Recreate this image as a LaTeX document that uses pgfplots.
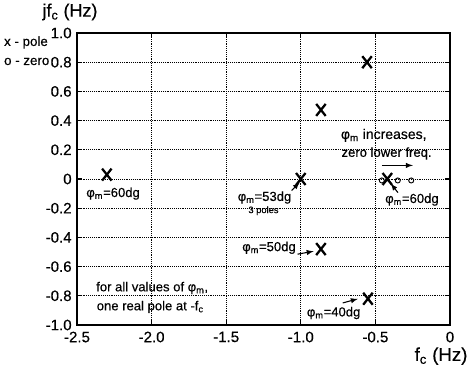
\documentclass[border=0pt]{standalone}
\usepackage{fontspec}
\setmainfont{Liberation Sans}[FakeBold=0.35]
\usepackage{pgfplots}
\pgfplotsset{compat=1.18}
\newcommand{\sub}[1]{\textsubscript{#1}}
\newcommand{\phim}{φ\sub{m}}
\begin{document}
\begin{tikzpicture}[x=1pt,y=1pt]
\useasboundingbox (-57.75pt,-31.5pt) rectangle (297.75pt,243.75pt);
\begin{axis}[
  scale only axis, width=279.75pt, height=219pt,
  xmin=-2.5, xmax=0, ymin=-1, ymax=1,
  xtick={-2.5,-2,-1.5,-1,-0.5,0},
  xticklabels={-2.5,-2.0,-1.5,-1.0,-0.5,0},
  ytick={-1,-0.8,-0.6,-0.4,-0.2,0,0.2,0.4,0.6,0.8,1},
  yticklabels={-1.0,-0.8,-0.6,-0.4,-0.2,0,0.2,0.4,0.6,0.8,1.0},
  /pgf/number format/assume math mode=true,
  tick label style={font=\fontsize{11.3}{13}\selectfont},
  xticklabel style={yshift=-1.5pt},
  yticklabel style={xshift=-0.5pt},
  grid=major, grid style={black, densely dotted, line width=0.6pt},
  axis line style={line width=1.1pt},
  major tick length=4pt,
  tick style={black, line width=0.8pt},
  clip=false,
]
\addplot[only marks, mark=x, mark size=5.3pt, line width=1.7pt, mark options={yscale=1.2,xscale=0.95}] coordinates {
(-2.30,0.03) (-1.00,0.0) (-0.865,0.473) (-0.865,-0.48) (-0.556,0.80) (-0.55,-0.82) (-0.42,0.0)};
\addplot[only marks, mark=o, mark size=1.9pt, line width=0.7pt] coordinates {
(-0.457,-0.01) (-0.35,-0.01) (-0.26,-0.01)};
\begin{scope}[font=\fontsize{9.8}{11}\selectfont]
\node at (axis cs:-2.547,1.144) {\fontsize{13.5}{14}\selectfont jf\sub{c} (Hz)};
\node at (axis cs:-0.06,-1.213) {\fontsize{14}{15}\selectfont f\sub{c} (Hz)};
\node[anchor=west] at (axis cs:-3.02,0.935) {\fontsize{10}{12}\selectfont x - pole};
\node[anchor=west] at (axis cs:-3.02,0.805) {\fontsize{10}{12}\selectfont o - zero};
\node at (axis cs:-2.258,-0.10) {\phim=60dg};
\node at (axis cs:-1.243,-0.127) {\phim=53dg};
\node at (axis cs:-1.25,-0.217) {\fontsize{7}{8}\selectfont 3 poles};
\draw[-latex, line width=0.8pt] (axis cs:-1.062,-0.079) -- (axis cs:-1.008,-0.024);
\node at (axis cs:-0.444,0.299) {\fontsize{10.5}{12}\selectfont\phim\ increases,};
\node at (axis cs:-0.425,0.175) {zero lower freq.};
\draw[-latex, line width=0.8pt] (axis cs:-0.457,0.093) -- (axis cs:-0.249,0.093);
\node at (axis cs:-0.255,-0.141) {\phim=60dg};
\draw[-latex, line width=0.8pt] (axis cs:-0.349,-0.093) -- (axis cs:-0.397,-0.031);
\node at (axis cs:-1.213,-0.471) {\phim=50dg};
\draw[-latex, line width=0.8pt] (axis cs:-1.022,-0.515) -- (axis cs:-0.914,-0.495);
\node at (axis cs:-0.78,-0.918) {\phim=40dg};
\draw[-latex, line width=0.8pt] (axis cs:-0.719,-0.849) -- (axis cs:-0.618,-0.821);
\node at (axis cs:-1.996,-0.746) {for all values of \phim,};
\node at (axis cs:-2.009,-0.876) {one real pole at -f\sub{c}};
\end{scope}
\end{axis}
\end{tikzpicture}
\end{document}
